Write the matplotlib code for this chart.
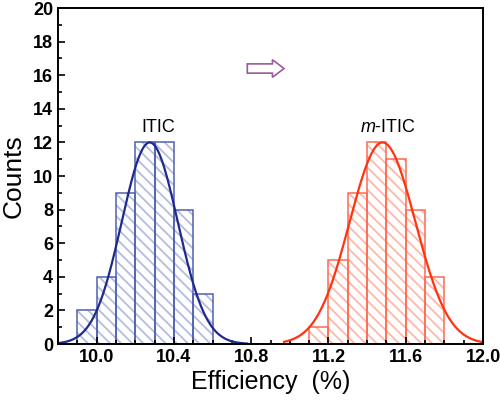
import numpy as np
import matplotlib
matplotlib.use("Agg")
import matplotlib.pyplot as plt
from matplotlib.patches import FancyArrow
from matplotlib.ticker import MultipleLocator

plt.rcParams['font.family'] = ['Liberation Sans', 'DejaVu Sans']
plt.rcParams['font.weight'] = 'bold'  # tick labels bold, other text set normal below
plt.rcParams['mathtext.fontset'] = 'custom'
plt.rcParams['mathtext.it'] = 'Liberation Sans:italic:normal'
plt.rcParams['mathtext.rm'] = 'Liberation Sans:normal'
plt.rcParams['hatch.linewidth'] = 1.3

# histogram data: bin left edges and counts
itic_edges = [9.9, 10.0, 10.1, 10.2, 10.3, 10.4, 10.5]
itic_counts = [2, 4, 9, 12, 12, 8, 3]
mitic_edges = [11.1, 11.2, 11.3, 11.4, 11.5, 11.6, 11.7]
mitic_counts = [1, 5, 9, 12, 11, 8, 4]
bin_width = 0.1

# gaussian fit parameters (center, sigma, height) and fit ranges
itic_fit = [10.275, 0.145, 12.0]
mitic_fit = [11.48, 0.17, 12.0]
itic_range = [9.8, 10.78]
mitic_range = [10.97, 12.0]

xtick_vals = [10.0, 10.4, 10.8, 11.2, 11.6, 12.0]

blue = '#1f2a8c'
blue_edge = '#5060b0'
blue_hatch = '#b4bce2'
red = '#ff3311'
red_edge = '#ff6a52'
red_hatch = '#ffb8a8'


def gauss(x, p):
    return p[2] * np.exp(-(x - p[0]) ** 2 / (2 * p[1] ** 2))


fig = plt.figure(figsize=(5.0, 4.01), dpi=100)
ax = fig.add_axes([0.116, 0.142, 0.85, 0.838])

# hatch layer, then outline layer
ax.bar(itic_edges, itic_counts, width=bin_width, align='edge',
       facecolor='white', edgecolor=blue_hatch, hatch='\\\\\\', linewidth=0)
ax.bar(itic_edges, itic_counts, width=bin_width, align='edge',
       fill=False, edgecolor=blue_edge, linewidth=1.1)
ax.bar(mitic_edges, mitic_counts, width=bin_width, align='edge',
       facecolor='white', edgecolor=red_hatch, hatch='\\\\\\', linewidth=0)
ax.bar(mitic_edges, mitic_counts, width=bin_width, align='edge',
       fill=False, edgecolor=red_edge, linewidth=1.1)

x1 = np.linspace(itic_range[0], itic_range[1], 300)
x2 = np.linspace(mitic_range[0], mitic_range[1], 300)
ax.plot(x1, gauss(x1, itic_fit), color=blue, linewidth=1.6)
ax.plot(x2, gauss(x2, mitic_fit), color=red, linewidth=1.6)

# labels for the two molecules and arrow
ax.text(10.32, 12.4, 'ITIC', fontsize=13, fontweight='normal',
        ha='center', va='bottom')
ax.text(11.51, 12.4, '$\\mathit{m}$-ITIC', fontsize=13, fontweight='normal',
        ha='center', va='bottom')
ax.add_patch(FancyArrow(10.78, 16.4, 0.13, 0, width=0.55, head_width=1.05,
                        head_length=0.06, facecolor='white',
                        edgecolor='#9a5a9a', linewidth=1.2))

ax.set_xlim(9.8, 12.0)
ax.set_ylim(0, 20)
ax.xaxis.set_minor_locator(MultipleLocator(0.1))
ax.yaxis.set_minor_locator(MultipleLocator(1))
ax.set_xticks(xtick_vals)
ax.set_xticklabels(['%.1f' % v for v in xtick_vals])
ax.set_yticks(range(0, 21, 2))
ax.tick_params(which='both', direction='in', width=1.2)
ax.tick_params(which='major', length=5, labelsize=13)
ax.tick_params(which='minor', length=3)
for sp in ax.spines.values():
    sp.set_linewidth(1.4)

ax.set_xlabel('Efficiency  (%)', fontsize=18, fontweight='normal', labelpad=3)
ax.set_ylabel('Counts', fontsize=19, fontweight='normal', labelpad=5)

plt.savefig('out.png', dpi=100)
plt.close()
